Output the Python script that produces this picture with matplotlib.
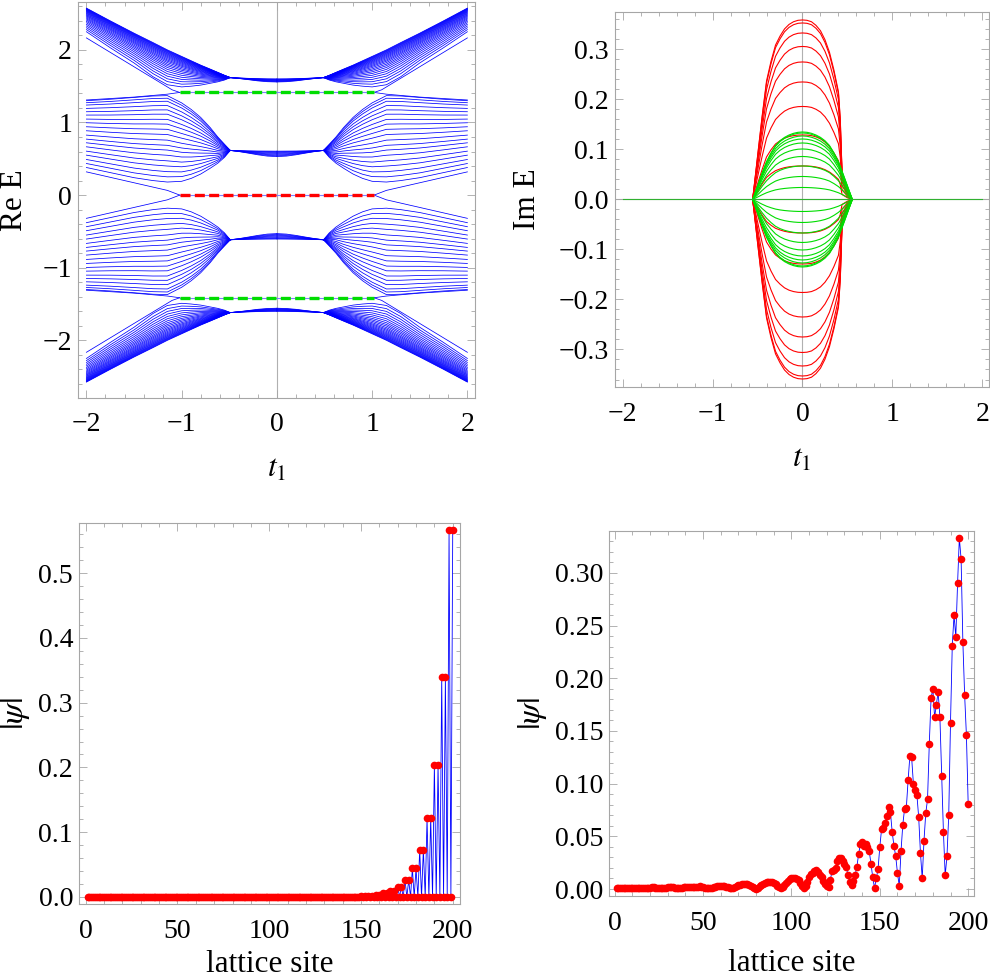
import numpy as np
import matplotlib
matplotlib.use("Agg")
import matplotlib.pyplot as plt
from matplotlib.ticker import MultipleLocator, FuncFormatter

plt.rcParams['font.family'] = ['Liberation Serif', 'DejaVu Serif']
plt.rcParams['mathtext.fontset'] = 'stix'

# ---------------- top left: Re E vs t1 (values read for t1 >= 0, E >= 0; mirrored) ----
t_fan = [0.49, 0.55, 0.62, 0.7, 0.8, 0.9, 1.0, 1.15, 1.3, 1.5, 1.75, 2.0]
up_top = [1.618, 1.65, 1.69, 1.735, 1.79, 1.85, 1.91, 2.0, 2.1, 2.23, 2.40, 2.575]
up_bot = [1.618, 1.585, 1.56, 1.54, 1.515, 1.50, 1.49, 1.52, 1.63, 1.82, 2.03, 2.25]
up_pos = [0, 0.09, 0.17, 0.245, 0.315, 0.38, 0.44, 0.495, 0.545, 0.59, 0.635, 0.675,
          0.71, 0.745, 0.778, 0.808, 0.836, 0.862, 0.886, 0.909, 0.93, 0.95, 0.968, 0.985, 1.0]
mid_top = [0.615, 0.70, 0.80, 0.93, 1.07, 1.18, 1.27, 1.37, 1.365, 1.345, 1.32, 1.30]
mid_bot = [0.615, 0.52, 0.44, 0.37, 0.29, 0.23, 0.19, 0.18, 0.20, 0.24, 0.31, 0.38]
mid_pos = [0, 0.06, 0.12, 0.185, 0.245, 0.31, 0.37, 0.425, 0.485, 0.55, 0.61, 0.67,
           0.725, 0.785, 0.835, 0.885, 0.935, 0.97, 1.0]

t_bun = [0, 0.1, 0.2, 0.3, 0.4, 0.49]
up_bun_top = [1.600, 1.601, 1.604, 1.608, 1.613, 1.618]
up_bun_bot = [1.558, 1.562, 1.573, 1.590, 1.606, 1.618]
mid_bun_top = [0.605, 0.606, 0.607, 0.609, 0.612, 0.615]
mid_bun_bot = [0.530, 0.537, 0.555, 0.578, 0.600, 0.615]
bun_pos = [0.0, 0.15, 0.3, 0.45, 0.6, 0.75, 0.9, 1.0]

edge_t = [1.02, 1.1, 2.0]
edge_up = [1.414, 1.45, 2.165]
edge_dn_t = [1.02, 1.15, 1.5, 2.0]
edge_dn = [1.414, 1.39, 1.35, 1.31]
zero_t = [1.02, 1.15, 1.5, 2.0]
zero_up = [0.0, 0.065, 0.17, 0.32]
flat_t = [-1.02, 1.02]
edge_level = 1.414

# ---------------- top right: Im E vs t1 ----------------
im_t = [-0.554, -0.5, -0.45, -0.4, -0.35, -0.3, -0.25, -0.2, -0.15, -0.1, -0.05, 0,
        0.05, 0.1, 0.15, 0.2, 0.25, 0.3, 0.35, 0.4, 0.42, 0.44, 0.5, 0.554]
red_prof = [0, 0.24, 0.46, 0.66, 0.77, 0.86, 0.91, 0.95, 0.975, 0.99, 0.998, 1,
            0.998, 0.99, 0.97, 0.94, 0.89, 0.82, 0.72, 0.6, 0.45, 0.15, 0.05, 0]
green_prof = [0, 0.2, 0.39, 0.56, 0.69, 0.8, 0.87, 0.92, 0.955, 0.98, 0.995, 1,
              0.995, 0.98, 0.955, 0.92, 0.87, 0.8, 0.69, 0.56, 0.49, 0.42, 0.2, 0]
red_h = [0.359, 0.353, 0.333, 0.306, 0.275, 0.235, 0.186, 0.129, 0.067]
green_h = [0.135, 0.133, 0.127, 0.121, 0.113, 0.101, 0.086, 0.067, 0.046, 0.024]

# ---------------- bottom left: zero mode |psi| ----------------
n_sites = 200
peak_sites = [200, 198, 196, 194, 192, 190, 188, 186, 184, 182, 180, 178, 176, 174,
              172, 170, 168, 166, 164, 162, 160, 158, 156, 154, 152, 150]
peak_vals = [0.566, 0.566, 0.340, 0.340, 0.204, 0.204, 0.122, 0.122, 0.073, 0.073,
             0.044, 0.044, 0.026, 0.026, 0.016, 0.016, 0.0095, 0.0095, 0.0057, 0.0057,
             0.0034, 0.0034, 0.002, 0.002, 0.0012, 0.0012]

# ---------------- bottom right: |psi| ----------------
psi_b = [
    0.0010, 0.0011, 0.0012, 0.0012, 0.0011, 0.0010, 0.0009, 0.0009, 0.0010, 0.0011,
    0.0012, 0.0013, 0.0013, 0.0012, 0.0011, 0.0010, 0.0010, 0.0011, 0.0012, 0.0014,
    0.0015, 0.0015, 0.0014, 0.0012, 0.0010, 0.0009, 0.0010, 0.0012, 0.0014, 0.0016,
    0.0017, 0.0017, 0.0015, 0.0012, 0.0010, 0.0009, 0.0011, 0.0014, 0.0017, 0.0019,
    0.0021, 0.0021, 0.0019, 0.0016, 0.0018, 0.0021, 0.0024, 0.0025, 0.0023, 0.0019,
    0.0014, 0.0010, 0.0008, 0.0007, 0.0010, 0.0016, 0.0022, 0.0027, 0.0030, 0.0031,
    0.0030, 0.0028, 0.0024, 0.0018, 0.0011, 0.0006, 0.0008, 0.0016, 0.0026, 0.0036,
    0.0043, 0.0047, 0.0049, 0.0048, 0.0044, 0.0037, 0.0028, 0.0018, 0.0009, 0.0005,
    0.0012, 0.0025, 0.0039, 0.0052, 0.0062, 0.0068, 0.0071, 0.0070, 0.0066, 0.0058,
    0.0047, 0.0033, 0.0020, 0.0014, 0.0024, 0.0042, 0.0062, 0.0080, 0.0094, 0.0102,
    0.0105, 0.0102, 0.0094, 0.0081, 0.0060, 0.0032, 0.0010, 0.0030, 0.0068, 0.0110,
    0.0138, 0.0150, 0.0172, 0.0180, 0.0160, 0.0135, 0.0110, 0.0080, 0.0045, 0.0025,
    0.0020, 0.0090, 0.0170, 0.0180, 0.0200, 0.0265, 0.0290, 0.0290, 0.0270, 0.0240,
    0.0210, 0.0130, 0.0070, 0.0040, 0.0080, 0.0130, 0.0210, 0.0330, 0.0430, 0.0450,
    0.0410, 0.0430, 0.0400, 0.0360, 0.0240, 0.0110, 0.0010, 0.0100, 0.0190, 0.0400,
    0.0570, 0.0580, 0.0630, 0.0690, 0.0780, 0.0730, 0.0540, 0.0410, 0.0310, 0.0150,
    0.0030, 0.0360, 0.0610, 0.0760, 0.0770, 0.1030, 0.1260, 0.1250, 0.1000, 0.0940,
    0.0890, 0.0680, 0.0340, 0.0100, 0.0460, 0.0720, 0.0850, 0.1380, 0.1810, 0.1900,
    0.1630, 0.1750, 0.1870, 0.1630, 0.1070, 0.0540, 0.0130, 0.0310, 0.0700, 0.1580,
    0.2310, 0.2600, 0.2390, 0.2900, 0.3330, 0.3130, 0.2340, 0.1840, 0.1460, 0.0810,
]

FRAME = '#a6a6a6'
BLUE = '#0000ff'
RED = '#ff0000'
GREEN = '#00dd00'
TICK_SIZE = 20
LABEL_SIZE = 22.5


def fmt(dec):
    def f(v, pos):
        s = f'{v:.{dec}f}'
        if float(s) == 0:
            s = f'{0:.{dec}f}'
        return s.replace('-', '\u2212')
    return FuncFormatter(f)


def style(ax, xmaj, xmin, ymaj, ymin, xdec, ydec):
    for s in ax.spines.values():
        s.set_color(FRAME)
        s.set_linewidth(0.8)
    ax.xaxis.set_major_locator(MultipleLocator(xmaj))
    ax.xaxis.set_minor_locator(MultipleLocator(xmin))
    ax.yaxis.set_major_locator(MultipleLocator(ymaj))
    ax.yaxis.set_minor_locator(MultipleLocator(ymin))
    ax.xaxis.set_major_formatter(fmt(xdec))
    ax.yaxis.set_major_formatter(fmt(ydec))
    ax.tick_params(which='both', direction='in', top=True, right=True,
                   color=FRAME, width=0.6, labelsize=TICK_SIZE)
    ax.tick_params(which='major', length=5.5)
    ax.tick_params(which='minor', length=3)
    ax.tick_params(axis='x', pad=10.5)
    ax.tick_params(axis='y', pad=4.5)


fig = plt.figure(figsize=(9.9, 9.8), dpi=100)

# ---- top left
ax1 = fig.add_axes([0.0791, 0.5942, 0.4007, 0.4038])
ax1.axvline(0, color='#b0b0b0', lw=0.8, zorder=0)


def mirrored(ax, ts, es, **kw):
    ts = np.asarray(ts)
    es = np.asarray(es)
    for sx in (1, -1):
        for sy in (1, -1):
            ax.plot(sx * ts, sy * es, **kw)


line_kw = dict(color=BLUE, lw=0.55)
for top, bot, pos in ((up_top, up_bot, up_pos), (mid_top, mid_bot, mid_pos)):
    top = np.asarray(top)
    bot = np.asarray(bot)
    for p in pos:
        mirrored(ax1, t_fan, bot + p * (top - bot), **line_kw)
for top, bot in ((up_bun_top, up_bun_bot), (mid_bun_top, mid_bun_bot)):
    top = np.asarray(top)
    bot = np.asarray(bot)
    for p in bun_pos:
        mirrored(ax1, t_bun, bot + p * (top - bot), **line_kw)
mirrored(ax1, edge_t, edge_up, **line_kw)
mirrored(ax1, edge_dn_t, edge_dn, **line_kw)
mirrored(ax1, zero_t, zero_up, **line_kw)
for lev in (edge_level, 0, -edge_level):
    ax1.plot(flat_t, [lev, lev], color='#8080ff', lw=0.8)
dash_kw = dict(lw=2.4, dashes=(3.0, 1.3), solid_capstyle='butt', dash_capstyle='butt')
ax1.plot(flat_t, [edge_level, edge_level], color=GREEN, **dash_kw)
ax1.plot(flat_t, [-edge_level, -edge_level], color=GREEN, **dash_kw)
ax1.plot(flat_t, [0, 0], color=RED, **dash_kw)
ax1.set_xlim(-2.085, 2.08)
ax1.set_ylim(-2.79, 2.66)
style(ax1, 1, 0.2, 1, 0.2, 0, 0)
ax1.set_xlabel('$t_1$', fontsize=LABEL_SIZE)
ax1.set_ylabel('Re E', fontsize=LABEL_SIZE)
ax1.xaxis.set_label_coords(0.5, -0.145)
ax1.yaxis.set_label_coords(-0.124, 0.5)

# ---- top right
ax2 = fig.add_axes([0.6212, 0.6051, 0.3778, 0.3827])
ax2.axvline(0, color='#b0b0b0', lw=0.8, zorder=0)
ax2.axhline(0, color='#b0b0b0', lw=0.8, zorder=0)
rp = np.asarray(red_prof)
gp = np.asarray(green_prof)
for h in red_h:
    ax2.plot(im_t, h * rp, color=RED, lw=0.8)
    ax2.plot(im_t, -h * rp, color=RED, lw=0.8)
for h in green_h:
    ax2.plot(im_t, h * gp, color=GREEN, lw=0.8)
    ax2.plot(im_t, -h * gp, color=GREEN, lw=0.8)
ax2.plot([-2, 2], [0, 0], color='#30b030', lw=0.8)
ax2.set_xlim(-2.086, 2.075)
ax2.set_ylim(-0.375, 0.375)
style(ax2, 1, 0.2, 0.1, 0.02, 0, 1)
ax2.set_xlabel('$t_1$', fontsize=LABEL_SIZE)
ax2.set_ylabel('Im E', fontsize=LABEL_SIZE)
ax2.xaxis.set_label_coords(0.5, -0.155)
ax2.yaxis.set_label_coords(-0.195, 0.5)

sites = np.arange(1, n_sites + 1)

# ---- bottom left
psi_a = np.zeros(n_sites)
psi_a[np.asarray(peak_sites) - 1] = peak_vals
ax3 = fig.add_axes([0.0801, 0.0776, 0.3848, 0.3885])
ax3.plot(sites, psi_a, color=BLUE, lw=0.6)
ax3.plot(sites, psi_a, 'o', color=RED, ms=5.5, mec='none')
ax3.set_xlim(-3.5, 204.1)
ax3.set_ylim(-0.0108, 0.577)
style(ax3, 50, 10, 0.1, 0.02, 0, 1)
ax3.set_xlabel('lattice site', fontsize=LABEL_SIZE)
ax3.set_ylabel(r'$|\psi|$', fontsize=24)
ax3.xaxis.set_label_coords(0.5, -0.121)
ax3.yaxis.set_label_coords(-0.124, 0.5)

# ---- bottom right
ax4 = fig.add_axes([0.6155, 0.0854, 0.3687, 0.3731])
ax4.plot(sites, psi_b, color=BLUE, lw=0.6)
ax4.plot(sites, psi_b, 'o', color=RED, ms=5.5, mec='none')
ax4.set_xlim(-3.06, 203.5)
ax4.set_ylim(-0.0069, 0.340)
style(ax4, 50, 10, 0.05, 0.01, 0, 2)
ax4.set_xlabel('lattice site', fontsize=LABEL_SIZE)
ax4.set_ylabel(r'$|\psi|$', fontsize=24)
ax4.xaxis.set_label_coords(0.5, -0.145)
ax4.yaxis.set_label_coords(-0.165, 0.5)

fig.savefig('out.png', dpi=100)
